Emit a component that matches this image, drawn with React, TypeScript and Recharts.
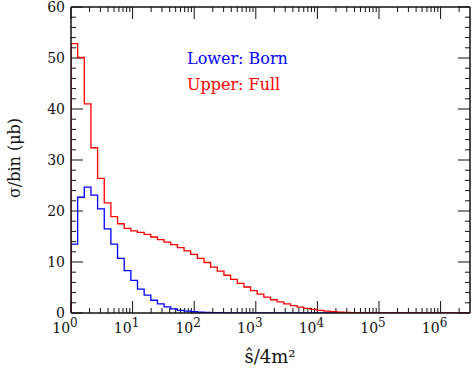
import { LineChart, Line, XAxis, YAxis } from 'recharts'

const XMAX = 3e6
const N_BINS = 60

// sigma per bin (microbarn), lower curve = Born
const BORN = [
  13.5, 22.7, 24.7, 23.1, 20.4, 16.5, 13.5, 10.7, 8.3, 6.4,
  4.7, 3.5, 2.5, 1.8, 1.2, 0.8, 0.5, 0.35, 0.25, 0.15,
  0.1, 0.07, 0.05, 0.03, 0.02, 0.01, 0, 0, 0, 0,
  0, 0, 0, 0, 0, 0, 0, 0, 0, 0,
  0, 0, 0, 0, 0, 0, 0, 0, 0, 0,
  0, 0, 0, 0, 0, 0, 0, 0, 0, 0,
]

// upper curve = Full
const FULL = [
  52.8, 50.1, 41.0, 32.4, 26.4, 21.6, 18.9, 17.5, 16.6, 16.1,
  15.8, 15.4, 14.9, 14.4, 13.9, 13.4, 12.8, 12.2, 11.5, 10.7,
  9.9, 9.0, 8.2, 7.4, 6.6, 5.8, 5.1, 4.4, 3.7, 3.1,
  2.6, 2.2, 1.8, 1.45, 1.15, 0.9, 0.7, 0.5, 0.35, 0.25,
  0.15, 0.1, 0.06, 0.03, 0.02, 0.01, 0, 0, 0, 0,
  0, 0, 0, 0, 0, 0, 0, 0, 0, 0,
]

const X_DECADES = [1, 10, 100, 1e3, 1e4, 1e5, 1e6]
const X_MINOR = [
  2, 3, 4, 5, 6, 7, 8, 9,
  20, 30, 40, 50, 60, 70, 80, 90,
  200, 300, 400, 500, 600, 700, 800, 900,
  2e3, 3e3, 4e3, 5e3, 6e3, 7e3, 8e3, 9e3,
  2e4, 3e4, 4e4, 5e4, 6e4, 7e4, 8e4, 9e4,
  2e5, 3e5, 4e5, 5e5, 6e5, 7e5, 8e5, 9e5,
  2e6,
]
const Y_MAJOR = [0, 10, 20, 30, 40, 50, 60]
const Y_MINOR = [2, 4, 6, 8, 12, 14, 16, 18, 22, 24, 26, 28, 32, 34, 36, 38, 42, 44, 46, 48, 52, 54, 56, 58]

const FONT = '"DejaVu Serif", serif'
const RED = '#ff0000'
const BLUE = '#0000ff'
const FRAME = '#111'

// plot box (matches chart margins + axis sizes below)
const LEFT = 71
const RIGHT = 470
const TOP = 7
const BOTTOM = 313
const MAJOR_LEN = 12
const MINOR_LEN = 5

const px = (v: number) => LEFT + ((RIGHT - LEFT) * Math.log10(v)) / Math.log10(XMAX)
const py = (v: number) => BOTTOM - ((BOTTOM - TOP) * v) / 60

// histogram bins are equal width in log10(x)
const binEdge = (i: number) => Math.pow(10, (i * Math.log10(XMAX)) / N_BINS)

function toSteps(values: number[]) {
  const pts = [{ x: 1, y: 0 }]
  values.forEach((v, i) => pts.push({ x: binEdge(i), y: v }))
  pts.push({ x: XMAX, y: values[values.length - 1] })
  return pts
}

const bornPts = toSteps(BORN)
const fullPts = toSteps(FULL)

function DecadeTick({ x, y, payload }: any) {
  return (
    <text x={x - 6} y={y + 20} textAnchor="middle" fontFamily={FONT} fontSize={14} fill="#111">
      10
      <tspan dy={-6} fontSize={12}>{Math.round(Math.log10(payload.value))}</tspan>
    </text>
  )
}

function YTick({ x, y, payload }: any) {
  return (
    <text x={x - 6} y={y + 5} textAnchor="end" fontFamily={FONT} fontSize={14} fill="#111">
      {payload.value}
    </text>
  )
}

// inward ticks on all four sides of the frame
function FrameTicks() {
  const xt = [
    ...X_DECADES.map((v) => ({ v, len: MAJOR_LEN })),
    ...X_MINOR.map((v) => ({ v, len: MINOR_LEN })),
  ]
  const yt = [
    ...Y_MAJOR.map((v) => ({ v, len: MAJOR_LEN })),
    ...Y_MINOR.map((v) => ({ v, len: MINOR_LEN })),
  ]
  return (
    <g stroke={FRAME} strokeWidth={1}>
      {xt.map(({ v, len }) => (
        <g key={`x${v}`}>
          <line x1={px(v)} y1={BOTTOM} x2={px(v)} y2={BOTTOM - len} />
          <line x1={px(v)} y1={TOP} x2={px(v)} y2={TOP + len} />
        </g>
      ))}
      {yt.map(({ v, len }) => (
        <g key={`y${v}`}>
          <line x1={LEFT} y1={py(v)} x2={LEFT + len} y2={py(v)} />
          <line x1={RIGHT} y1={py(v)} x2={RIGHT - len} y2={py(v)} />
        </g>
      ))}
    </g>
  )
}

const xCommon = {
  type: 'number' as const,
  dataKey: 'x',
  scale: 'log' as const,
  domain: [1, XMAX],
  allowDataOverflow: true,
  interval: 0 as const,
  tickLine: false,
  tickSize: 0,
  tickMargin: 0,
  axisLine: { stroke: FRAME, strokeWidth: 1.5 },
}

const yCommon = {
  type: 'number' as const,
  domain: [0, 60],
  allowDataOverflow: true,
  interval: 0 as const,
  tickLine: false,
  tickSize: 0,
  tickMargin: 0,
  axisLine: { stroke: FRAME, strokeWidth: 1.5 },
}

export default function App() {
  return (
    <div style={{ position: 'absolute', left: 0, top: 0, background: '#fff' }}>
      <LineChart width={474} height={369} margin={{ top: 6, right: 3, left: 0, bottom: 0 }}>
        <XAxis {...xCommon} xAxisId="main" ticks={X_DECADES} height={56} tick={<DecadeTick />} />
        <XAxis {...xCommon} xAxisId="top" orientation="top" ticks={X_DECADES} height={1} tick={false} />
        <YAxis {...yCommon} yAxisId="main" ticks={Y_MAJOR} width={71} tick={<YTick />} />
        <YAxis {...yCommon} yAxisId="right" orientation="right" ticks={Y_MAJOR} width={1} tick={false} />

        <Line
          data={bornPts}
          xAxisId="main"
          yAxisId="main"
          dataKey="y"
          type="stepAfter"
          stroke={BLUE}
          strokeWidth={1.3}
          dot={false}
          isAnimationActive={false}
        />
        <Line
          data={fullPts}
          xAxisId="main"
          yAxisId="main"
          dataKey="y"
          type="stepAfter"
          stroke={RED}
          strokeWidth={1.3}
          dot={false}
          isAnimationActive={false}
        />

        <FrameTicks />

        <text x={187} y={64} fontFamily={FONT} fontSize={16} fill={BLUE}>Lower: Born</text>
        <text x={187} y={90} fontFamily={FONT} fontSize={16} fill={RED}>Upper: Full</text>
        <text x={270} y={363} textAnchor="middle" fontFamily={FONT} fontSize={18} fill="#111">ŝ/4m²</text>
        <text
          x={20}
          y={158}
          textAnchor="middle"
          transform="rotate(-90, 20, 158)"
          fontFamily={FONT}
          fontSize={16}
          fill="#111"
        >
          σ/bin (μb)
        </text>
      </LineChart>
    </div>
  )
}
